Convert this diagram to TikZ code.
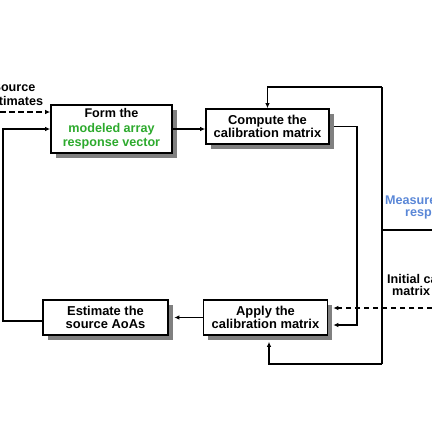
\documentclass[tikz,border=0pt]{standalone}
\usepackage{fontspec}
\setmainfont{Liberation Sans}
\usetikzlibrary{arrows.meta,shadows}
\definecolor{mgreen}{RGB}{45,170,45}
\definecolor{mblue}{RGB}{90,135,215}
\begin{document}
\begin{tikzpicture}[x=1pt,y=-1pt,
  box/.style={draw=black,line width=1.7pt,fill=white,inner sep=0pt,align=center,
    font=\fontsize{12.9}{12.4}\selectfont\bfseries,
    drop shadow={shadow xshift=4.5pt,shadow yshift=-5pt,fill=black!50,opacity=1}},
  conn/.style={line width=1.4pt,-{Latex[length=5pt,width=4.5pt]}},
  wire/.style={line width=1.4pt},
  dconn/.style={conn,dash pattern=on 5.5pt off 3.5pt},
  lbl/.style={font=\fontsize{12.6}{12.4}\selectfont\bfseries,inner sep=0pt}]
\useasboundingbox (0,0) rectangle (432,432);
\clip (0,0) rectangle (432,432);

% boxes
\node[box,minimum width=121pt,minimum height=48pt,font=\fontsize{12.6}{14.6}\selectfont\bfseries] (form) at (111.5,129)
  {Form the\\\textcolor{mgreen}{modeled array}\\\textcolor{mgreen}{response vector}};
\node[box,minimum width=123pt,minimum height=35pt] (comp) at (267.5,126.5) {Compute the\\calibration matrix};
\node[box,minimum width=125pt,minimum height=35pt] (est) at (105.5,317.5) {Estimate the\\source AoAs};
\node[box,minimum width=124pt,minimum height=35pt] (apply) at (265.5,317.5) {Apply the\\calibration matrix};

% side labels (cut by the picture edge, as in the reference)
\node[lbl,align=center,font=\fontsize{12.6}{13.6}\selectfont\bfseries] (src) at (14,94) {Source\\estimates};
\node[lbl,anchor=base west,text=mblue] (meas1) at (385,204) {Measured};
\node[lbl,anchor=base west,text=mblue] (meas2) at (405,216) {response};
\node[lbl,anchor=base west] (init1) at (387,283.5) {Initial calibration};
\node[lbl,anchor=base west] (init2) at (392,295.5) {matrix};

% coordinates
\coordinate (s0) at (0,112);
\coordinate (L) at (3,321);
\coordinate (tl) at (382,87);
\coordinate (bl) at (382,364);
\coordinate (mj) at (382,230);
\coordinate (me) at (432,230);
\coordinate (ci) at (432,308);
\coordinate (ai) at (357,325);
\coordinate (apE) at ([xshift=5pt]apply.east);
\coordinate (apS) at ([xshift=3.5pt,yshift=-6pt]apply.south);
\coordinate (cpE) at ([xshift=4.5pt]comp.east);
\coordinate (esE) at ([xshift=5.5pt]est.east);
\coordinate (esW) at ([yshift=-3.5pt]est.west);

% connectors
\draw[dconn] (s0) -- (s0 -| form.west);
\draw[conn] (esW) -- (L) |- (form.west);
\draw[conn] (form.east) -- (form.east -| comp.west);
\draw[conn] (cpE) -| (ai) -- (ai -| apE);
\draw[wire] (tl) -- (bl);
\draw[wire] (mj) -- (me);
\draw[conn] (tl) -| (comp.north);
\draw[conn] (bl) -| (apS);
\draw[dconn] (ci) -- (ci -| apE);
\draw[conn] (apply.west) -- (apply.west -| esE);
\end{tikzpicture}
\end{document}
